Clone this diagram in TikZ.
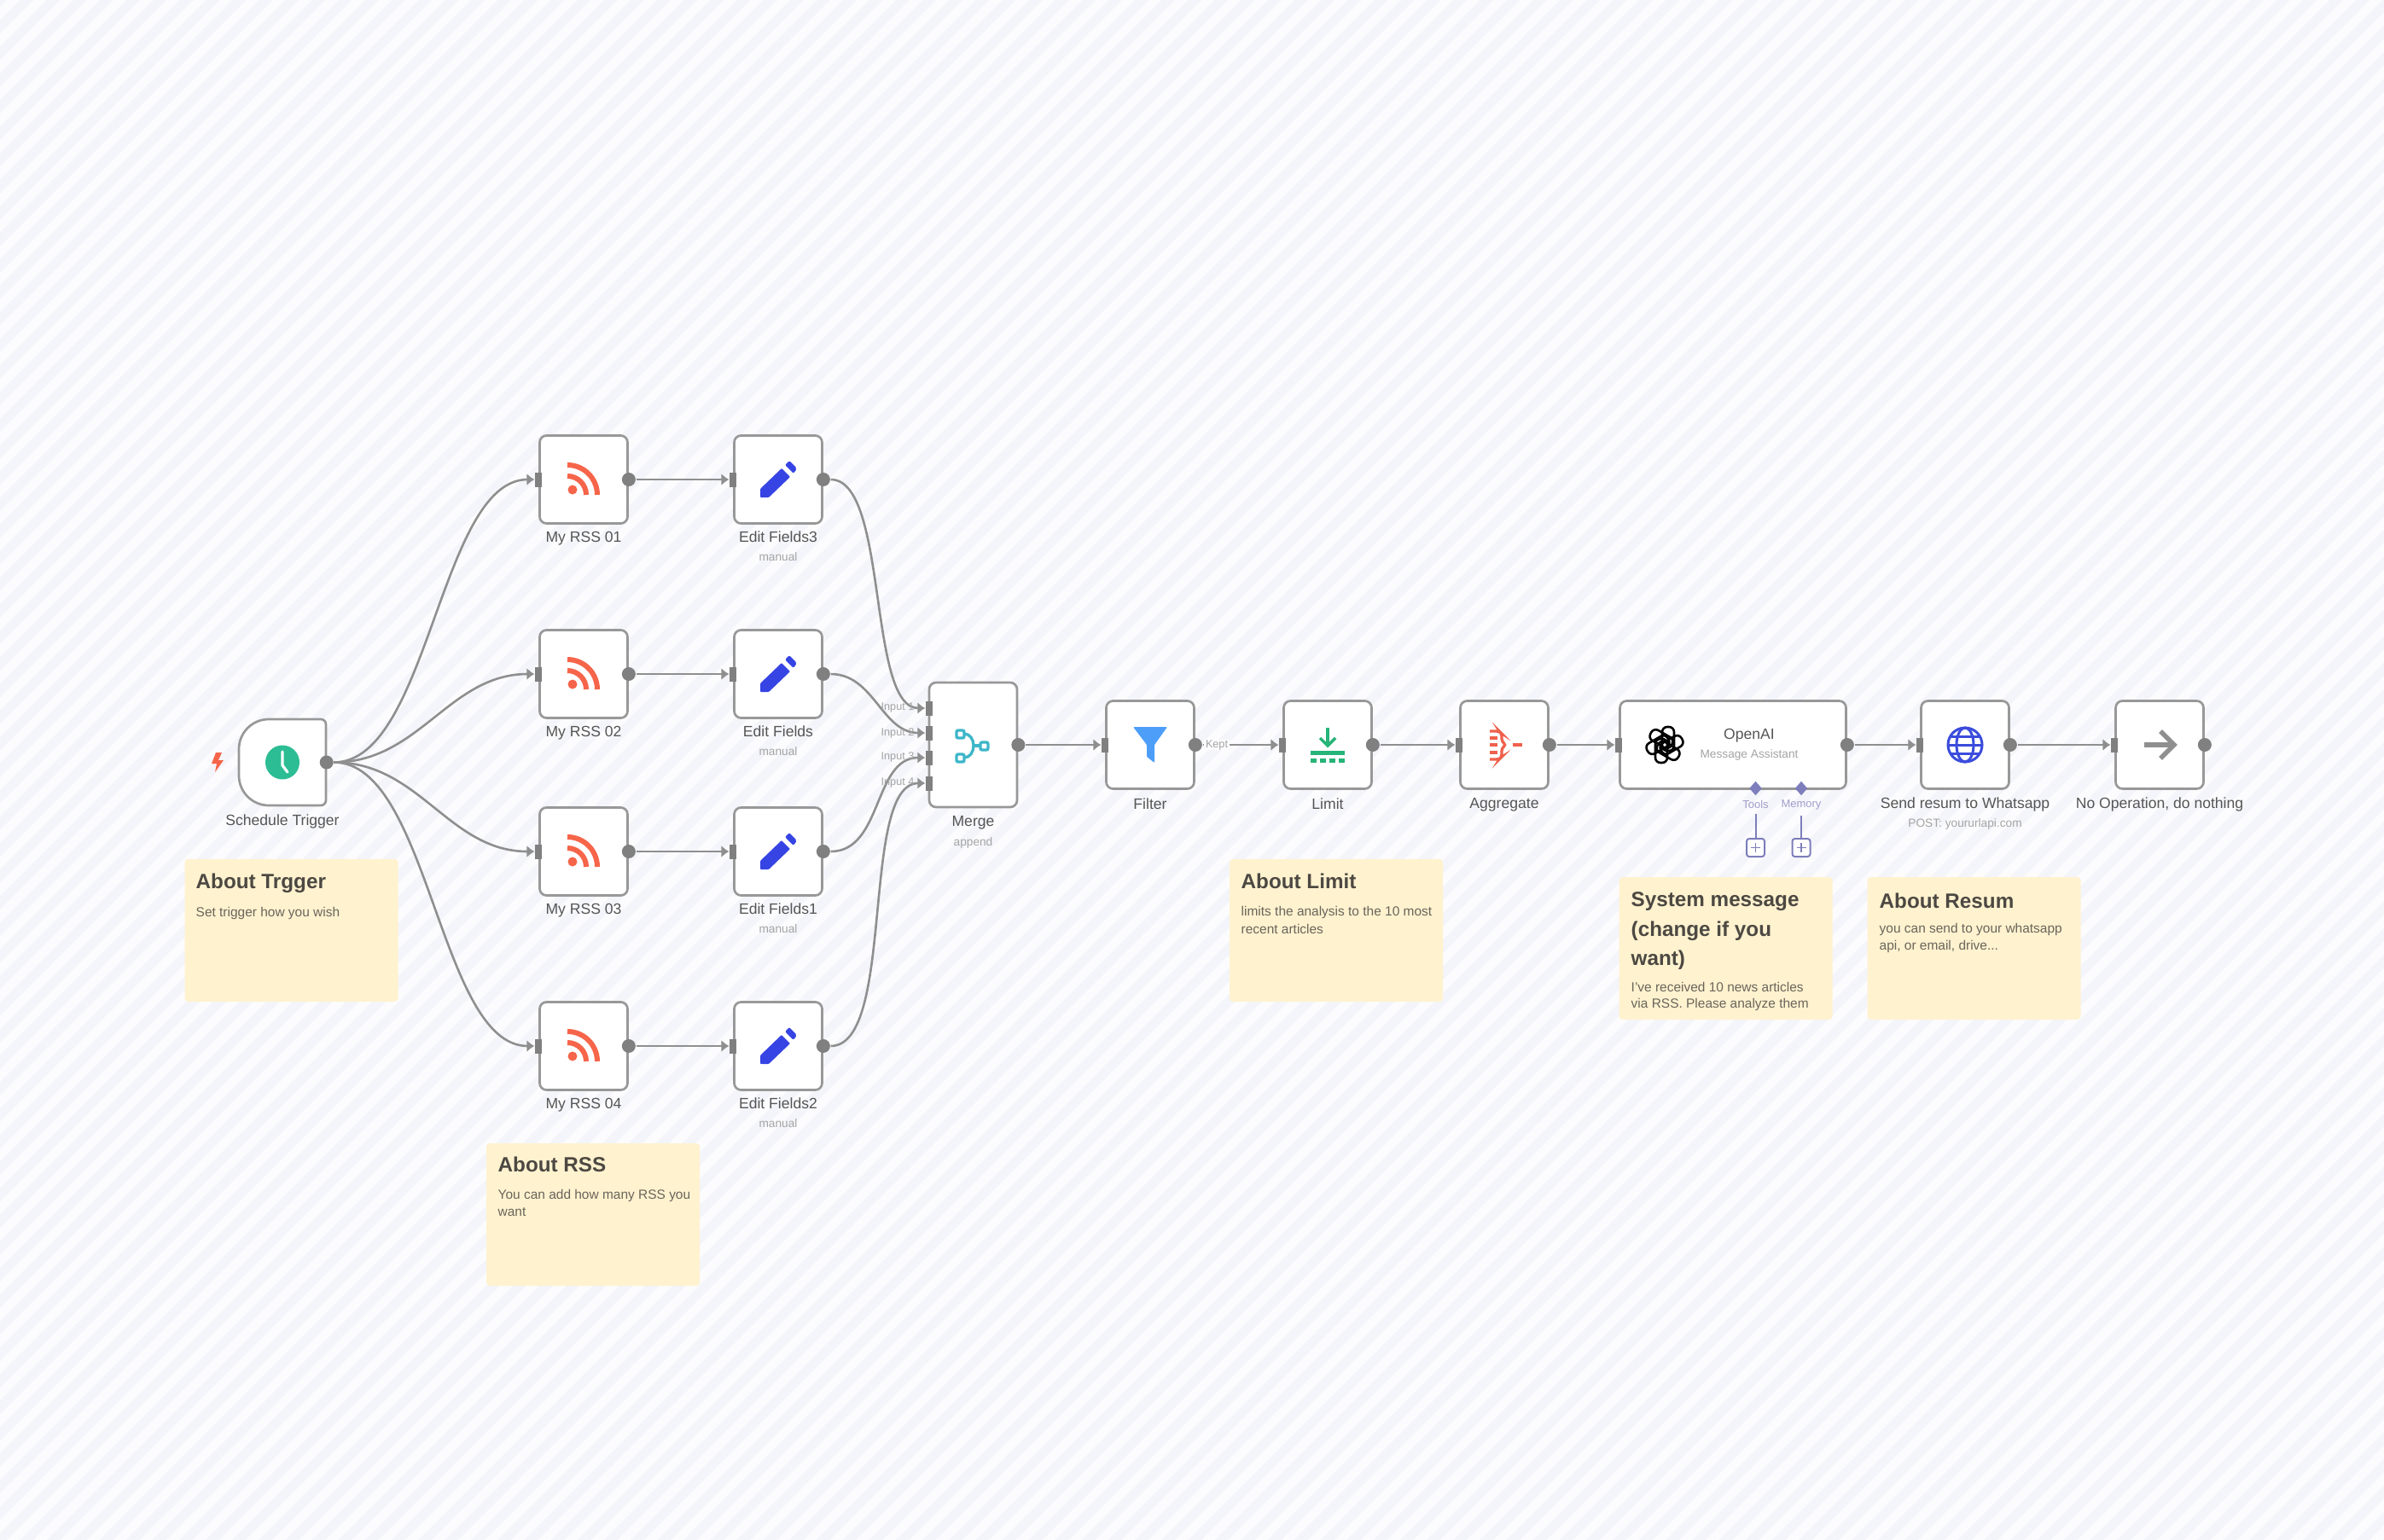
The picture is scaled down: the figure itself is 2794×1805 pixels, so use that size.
\documentclass[tikz,border=0pt]{standalone}
\usepackage{fontspec}
\setmainfont{Liberation Sans}
\usetikzlibrary{arrows.meta,patterns.meta,shapes.geometric}
\definecolor{bgbase}{HTML}{FCFCFE}
\definecolor{bgline}{HTML}{F4F5FA}
\definecolor{boxline}{HTML}{989898}
\definecolor{linkgray}{HTML}{8F8F8F}
\definecolor{dotgray}{HTML}{808080}
\definecolor{labtext}{HTML}{555555}
\definecolor{subtext}{HTML}{A4A4A4}
\definecolor{notefill}{HTML}{FFF2CF}
\definecolor{notehd}{HTML}{4C4842}
\definecolor{notetx}{HTML}{6A655B}
\definecolor{rssred}{HTML}{F6654A}
\definecolor{penblue}{HTML}{3644E4}
\definecolor{clockgreen}{HTML}{2DBD94}
\definecolor{mergeteal}{HTML}{3DB6C8}
\definecolor{filterblue}{HTML}{4D9EF8}
\definecolor{limitgreen}{HTML}{26B478}
\definecolor{aggred}{HTML}{F0604C}
\definecolor{globeblue}{HTML}{3B4CDC}
\definecolor{aipurple}{HTML}{7D7EBB}
\tikzset{>={Latex[length=0.9mm,width=1.4mm]}}
\tikzset{
  flowbox/.style={draw=boxline,line width=0.27mm,fill=white,rounded corners=0.8mm,
    minimum width=10.3mm,minimum height=10.3mm,inner sep=0pt},
  inport/.style={fill=dotgray,minimum width=0.8mm,minimum height=1.7mm,inner sep=0pt},
  outdot/.style={circle,fill=dotgray,minimum size=1.6mm,inner sep=0pt},
  link/.style={draw=linkgray,line width=0.26mm,->},
  flowlab/.style={text=labtext,inner sep=0pt,font=\fontsize{5}{6}\selectfont},
  sublab/.style={text=subtext,inner sep=0pt,font=\fontsize{3.9}{5}\selectfont},
  portlab/.style={text=subtext,inner sep=0pt,font=\fontsize{3.6}{4.5}\selectfont},
  ailab/.style={text=aipurple!75,inner sep=0pt,font=\fontsize{3.7}{4.5}\selectfont},
  note/.style={fill=notefill,rounded corners=0.4mm,inner sep=0pt,minimum width=25mm,minimum height=16.7mm},
  notehead/.style={text=notehd,anchor=west,inner sep=0pt,font=\bfseries\fontsize{6.9}{9.5}\selectfont},
  notebody/.style={text=notetx,anchor=west,inner sep=0pt,font=\fontsize{4.4}{5.6}\selectfont},
  aidiamond/.style={diamond,fill=aipurple,minimum width=1.5mm,minimum height=1.7mm,inner sep=0pt,aspect=0.9},
  aiplus/.style={draw=aipurple,line width=0.2mm,fill=white,rounded corners=0.3mm,minimum size=2.1mm,inner sep=0pt},
  rssicon/.pic={
    \fill[rssred] (-13,12) circle (5.5);
    \draw[rssred,line width=0.6mm] (-19,-4) arc (-90:0:22);
    \draw[rssred,line width=0.6mm] (-19,-17) arc (-90:0:35);
  },
  penicon/.pic={
    \fill[penblue,rounded corners=0.1mm] (-21,21) -- (-21,11) -- (4,-13) -- (14,-3) -- (-11,21) -- cycle;
    \fill[penblue,rounded corners=0.2mm] (8,-17) -- (13,-22) -- (22,-13) -- (18,-7) -- cycle;
  },
  aiknot/.pic={
    \draw[black,line width=0.26mm,rounded corners=0.6mm,rotate=0] (-3,-21) rectangle (11,7);
    \draw[black,line width=0.26mm,rounded corners=0.6mm,rotate=60] (-3,-21) rectangle (11,7);
    \draw[black,line width=0.26mm,rounded corners=0.6mm,rotate=120] (-3,-21) rectangle (11,7);
    \draw[black,line width=0.26mm,rounded corners=0.6mm,rotate=180] (-3,-21) rectangle (11,7);
    \draw[black,line width=0.26mm,rounded corners=0.6mm,rotate=240] (-3,-21) rectangle (11,7);
    \draw[black,line width=0.26mm,rounded corners=0.6mm,rotate=300] (-3,-21) rectangle (11,7);
  }
}

\begin{document}
\begin{tikzpicture}[x=0.1mm,y=-0.1mm]
  % canvas
  \fill[bgbase] (0,0) rectangle (2794,1805);
  \fill[pattern={Lines[angle=45,distance=2.2mm,line width=1.1mm]},pattern color=bgline] (0,0) rectangle (2794,1805);
  \useasboundingbox (0,0) rectangle (2794,1805);

  % sticky notes
  \node[note] (notetrig) at (341.5,1090.5) {};
  \node[note] (noterss) at (695,1423.5) {};
  \node[note] (notelimit) at (1566,1090.5) {};
  \node[note] (notesys) at (2022.5,1111.5) {};
  \node[note] (noteres) at (2313.5,1111.5) {};
  \node[notehead] (ha) at (229,1035) {About Trgger};
  \node[notebody] (ba) at (229,1070) {Set trigger how you wish};
  \node[notehead] (hb) at (583,1365) {About RSS};
  \node[notebody] (bb) at (583,1401) {You can add how many RSS you};
  \node[notebody] (bbb) at (583,1421) {want};
  \node[notehead] (hc) at (1454,1033) {About Limit};
  \node[notebody] (bc) at (1454,1069) {limits the analysis to the 10 most};
  \node[notebody] (bcc) at (1454,1089) {recent articles};
  \node[notehead] (hd) at (1911,1057) {System message};
  \node[notehead] (hdd) at (1911,1091) {(change if you};
  \node[notehead] (hddd) at (1911,1125) {want)};
  \node[notebody] (bd) at (1911,1157) {I've received 10 news articles};
  \node[notebody] (bdd) at (1911,1177) {via RSS. Please analyze them};
  \node[notehead] (he) at (2202,1056) {About Resum};
  \node[notebody] (be) at (2202,1089) {you can send to your whatsapp};
  \node[notebody] (bee) at (2202,1109) {api, or email, drive...};

  % nodes
  \draw[draw=boxline,line width=0.27mm,fill=white]
    (315,843) -- (376,843) arc (-90:0:6) -- (382,938) arc (0:90:6) -- (315,944) arc (90:180:35) -- (280,878) arc (180:270:35) -- cycle;
  \node[inner sep=0pt,minimum width=10.2mm,minimum height=10.1mm] (trig) at (331,893.5) {};
  \node[flowbox] (rssa) at (684,562) {};
  \node[flowbox] (rssb) at (684,790) {};
  \node[flowbox] (rssc) at (684,998) {};
  \node[flowbox] (rssd) at (684,1226) {};
  \node[flowbox] (edc) at (912,562) {};
  \node[flowbox] (edd) at (912,790) {};
  \node[flowbox] (ede) at (912,998) {};
  \node[flowbox] (edf) at (912,1226) {};
  \node[flowbox,minimum height=14.6mm] (merge) at (1140.5,873) {};
  \node[flowbox] (filter) at (1348,873) {};
  \node[flowbox] (limit) at (1556,873) {};
  \node[flowbox] (aggr) at (1763,873) {};
  \node[flowbox,minimum width=26.5mm] (openai) at (2031,873) {};
  \node[flowbox] (http) at (2303,873) {};
  \node[flowbox] (noop) at (2531,873) {};

  % ports
  \node[outdot] (otrig) at (trig.east) {};
  \node[inport] (prssa) at (rssa.west) {};
  \node[inport] (prssb) at (rssb.west) {};
  \node[inport] (prssc) at (rssc.west) {};
  \node[inport] (prssd) at (rssd.west) {};
  \node[outdot] (orssa) at (rssa.east) {};
  \node[outdot] (orssb) at (rssb.east) {};
  \node[outdot] (orssc) at (rssc.east) {};
  \node[outdot] (orssd) at (rssd.east) {};
  \node[inport] (pedc) at (edc.west) {};
  \node[inport] (pedd) at (edd.west) {};
  \node[inport] (pede) at (ede.west) {};
  \node[inport] (pedf) at (edf.west) {};
  \node[outdot] (oedc) at (edc.east) {};
  \node[outdot] (oedd) at (edd.east) {};
  \node[outdot] (oede) at (ede.east) {};
  \node[outdot] (oedf) at (edf.east) {};
  \node[inport] (pma) at (1089,830) {};
  \node[inport] (pmb) at (1089,859) {};
  \node[inport] (pmc) at (1089,888) {};
  \node[inport] (pmd) at (1089,918) {};
  \node[outdot] (omerge) at (merge.east) {};
  \node[inport] (pfilter) at (filter.west) {};
  \node[outdot] (ofilter) at (filter.east) {};
  \node[inport] (plimit) at (limit.west) {};
  \node[outdot] (olimit) at (limit.east) {};
  \node[inport] (paggr) at (aggr.west) {};
  \node[outdot] (oaggr) at (aggr.east) {};
  \node[inport] (popenai) at (openai.west) {};
  \node[outdot] (oopenai) at (openai.east) {};
  \node[inport] (phttp) at (http.west) {};
  \node[outdot] (ohttp) at (http.east) {};
  \node[inport] (pnoop) at (noop.west) {};
  \node[outdot] (onoop) at (noop.east) {};

  % connectors
  \draw[link] (otrig) to[out=0,in=180,looseness=0.7] (prssa.west);
  \draw[link] (otrig) to[out=0,in=180] (prssb.west);
  \draw[link] (otrig) to[out=0,in=180] (prssc.west);
  \draw[link] (otrig) to[out=0,in=180,looseness=0.7] (prssd.west);
  \draw[link] (orssa) -- (pedc.west);
  \draw[link] (orssb) -- (pedd.west);
  \draw[link] (orssc) -- (pede.west);
  \draw[link] (orssd) -- (pedf.west);
  \draw[link] (oedc) to[out=0,in=180,looseness=0.6] (pma.west);
  \draw[link] (oedd) to[out=0,in=180] (pmb.west);
  \draw[link] (oede) to[out=0,in=180] (pmc.west);
  \draw[link] (oedf) to[out=0,in=180,looseness=0.6] (pmd.west);
  \draw[link] (omerge) -- (pfilter.west);
  \draw[link] (ofilter) -- (plimit.west);
  \draw[link] (olimit) -- (paggr.west);
  \draw[link] (oaggr) -- (popenai.west);
  \draw[link] (oopenai) -- (phttp.west);
  \draw[link] (ohttp) -- (pnoop.west);

  % labels
  \node[flowlab] (ltrig) at (331,963) {Schedule Trigger};
  \node[flowlab] (lrssa) at (684,631) {My RSS 01};
  \node[flowlab] (lrssb) at (684,859) {My RSS 02};
  \node[flowlab] (lrssc) at (684,1067) {My RSS 03};
  \node[flowlab] (lrssd) at (684,1295) {My RSS 04};
  \node[flowlab] (ledc) at (912,629) {Edit Fields3};
  \node[flowlab] (ledd) at (912,857) {Edit Fields};
  \node[flowlab] (lede) at (912,1065) {Edit Fields1};
  \node[flowlab] (ledf) at (912,1293) {Edit Fields2};
  \node[sublab] (sedc) at (912,653) {manual};
  \node[sublab] (sedd) at (912,881) {manual};
  \node[sublab] (sede) at (912,1089) {manual};
  \node[sublab] (sedf) at (912,1317) {manual};
  \node[flowlab] (lmerge) at (1140.5,964) {Merge};
  \node[sublab] (smerge) at (1140.5,988) {append};
  \node[flowlab] (lfilter) at (1348,942) {Filter};
  \node[flowlab] (llimit) at (1556,942) {Limit};
  \node[flowlab] (laggr) at (1763,943) {Aggregate};
  \node[flowlab] (lopenai) at (2050,862) {OpenAI};
  \node[sublab] (sopenai) at (2050,885) {Message Assistant};
  \node[flowlab] (lhttp) at (2303,943) {Send resum to Whatsapp};
  \node[sublab] (shttp) at (2303,966) {POST: yoururlapi.com};
  \node[flowlab] (lnoop) at (2531,943) {No Operation, do nothing};
  \node[portlab] (ima) at (1052,829) {Input 1};
  \node[portlab] (imb) at (1052,859) {Input 2};
  \node[portlab] (imc) at (1052,887) {Input 3};
  \node[portlab] (imd) at (1052,917) {Input 4};
  \node[portlab,fill=bgbase,inner xsep=0.2mm] (kept) at (1426,873) {Kept};

  % sub-node ports of the assistant
  \node[aidiamond] (dtools) at (2057.5,924) {};
  \node[aidiamond] (dmem) at (2111,924) {};
  \node[ailab] (ltools) at (2057.5,943) {Tools};
  \node[ailab] (lmem) at (2111,943) {Memory};
  \node[aiplus] (ptools) at (2057.5,993.5) {};
  \node[aiplus] (pmem) at (2111,993.5) {};
  \draw[draw=aipurple,line width=0.2mm] (ltools.south)++(0,6) -- (ptools.north);
  \draw[draw=aipurple,line width=0.2mm] (lmem.south)++(0,6) -- (pmem.north);
  \draw[draw=aipurple,line width=0.18mm] (2057.5,988) -- (2057.5,999) (2052,993.5) -- (2063,993.5);
  \draw[draw=aipurple,line width=0.18mm] (2111,988) -- (2111,999) (2105.5,993.5) -- (2116.5,993.5);

  % icons
  \fill[rssred] (253,882) -- (248,895) -- (254,895) -- (252,905) -- (262,891) -- (256,891) -- (260,882) -- cycle;
  \fill[clockgreen] (331,893.5) circle (20);
  \draw[white,line width=0.32mm,line cap=round,line join=round] (331,881) -- (331,897) -- (337,905);
  \pic at (rssa) {rssicon};
  \pic at (rssb) {rssicon};
  \pic at (rssc) {rssicon};
  \pic at (rssd) {rssicon};
  \pic at (edc) {penicon};
  \pic at (edd) {penicon};
  \pic at (ede) {penicon};
  \pic at (edf) {penicon};
  % merge
  \draw[mergeteal,line width=0.33mm,rounded corners=0.2mm] (1121,856) rectangle (1130,865);
  \draw[mergeteal,line width=0.33mm,rounded corners=0.2mm] (1121,884) rectangle (1130,893);
  \draw[mergeteal,line width=0.33mm,rounded corners=0.2mm] (1149,870) rectangle (1158,879);
  \draw[mergeteal,line width=0.33mm] (1130,860) to[out=0,in=90] (1141,874) to[out=-90,in=0] (1130,888);
  \draw[mergeteal,line width=0.33mm] (1141,874) -- (1149,874);
  % filter
  \fill[filterblue,rounded corners=0.1mm] (1328,852) -- (1368,852) -- (1353,873) -- (1353,894) -- (1344,887) -- (1344,873) -- cycle;
  % limit
  \draw[limitgreen,line width=0.35mm] (1556,853) -- (1556,873);
  \draw[limitgreen,line width=0.35mm] (1547,865) -- (1556,874) -- (1565,865);
  \fill[limitgreen] (1536,880) rectangle (1576,885);
  \fill[limitgreen] (1536,889) rectangle (1543,894);
  \fill[limitgreen] (1547,889) rectangle (1554,894);
  \fill[limitgreen] (1558,889) rectangle (1565,894);
  \fill[limitgreen] (1569,889) rectangle (1576,894);
  % aggregate
  \draw[aggred,line width=0.33mm,rounded corners=0.3mm] (1746,857) -- (1757,857) -- (1760,860) -- (1760,869) -- (1765,873) -- (1760,877) -- (1760,887) -- (1757,890) -- (1746,890);
  \fill[aggred] (1746,863) rectangle (1755,867);
  \fill[aggred] (1746,871) rectangle (1755,875);
  \fill[aggred] (1746,880) rectangle (1755,884);
  \fill[aggred] (1773,871) rectangle (1784,875);
  % openai
  \pic at (1951,873) {aiknot};
  % globe
  \draw[globeblue,line width=0.3mm] (2303,873) circle (20);
  \draw[globeblue,line width=0.3mm] (2303,873) ellipse (10 and 20);
  \draw[globeblue,line width=0.3mm] (2283,873) -- (2323,873);
  \draw[globeblue,line width=0.3mm] (2286,863) -- (2320,863);
  \draw[globeblue,line width=0.3mm] (2286,883) -- (2320,883);
  % arrow
  \draw[linkgray,line width=0.55mm] (2513,873) -- (2548,873);
  \draw[linkgray,line width=0.55mm] (2532,857) -- (2548,873) -- (2532,889);
\end{tikzpicture}
\end{document}
